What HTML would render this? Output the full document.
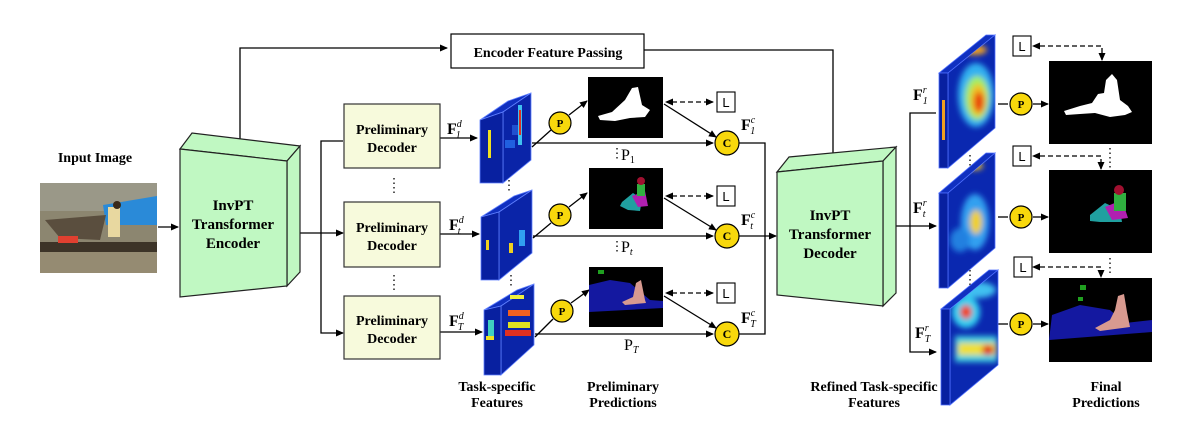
<!DOCTYPE html>
<html><head><meta charset="utf-8"><style>
html,body{margin:0;padding:0;background:#fff;}
svg{display:block;font-family:"Liberation Serif",serif;}
.b{font-weight:bold;font-size:14px;text-anchor:middle;}
.m{font-size:16px;font-weight:bold;}
.i{font-style:italic;font-size:10px;font-weight:normal;}
</style></head><body>
<svg width="1200" height="430" viewBox="0 0 1200 430" xmlns="http://www.w3.org/2000/svg">
<defs>
<marker id="a" markerWidth="8" markerHeight="8" refX="7" refY="4" orient="auto" markerUnits="userSpaceOnUse"><path d="M0,0.5 L8,4 L0,7.5 z" fill="#000"/></marker>
<filter id="bl" x="-50%" y="-50%" width="200%" height="200%"><feGaussianBlur stdDeviation="3"/></filter>
<clipPath id="r1"><polygon points="948,73 995,35 995,128 948,168"/></clipPath>
<clipPath id="r2"><polygon points="948,193 995,153 995,248 948,288"/></clipPath>
<clipPath id="r3"><polygon points="950,309 998,270 998,365 950,405"/></clipPath>
</defs>
<g stroke="#000" stroke-width="1.3" fill="none">
<polyline points="240,147 240,48 447,48" marker-end="url(#a)"/>
<polyline points="644,50 833,50 833,160" marker-end="url(#a)"/>
<line x1="158" y1="227" x2="178" y2="227" marker-end="url(#a)"/>
<line x1="297" y1="233" x2="343" y2="233" marker-end="url(#a)"/>
<polyline points="343,141 321,141 321,333 343,333" marker-end="url(#a)"/>
<line x1="440" y1="138" x2="477" y2="138" marker-end="url(#a)"/>
<line x1="440" y1="234" x2="479" y2="234" marker-end="url(#a)"/>
<line x1="440" y1="332" x2="482" y2="332" marker-end="url(#a)"/>
<line x1="532" y1="143" x2="713" y2="143" marker-end="url(#a)"/>
<line x1="533" y1="236" x2="713" y2="236" marker-end="url(#a)"/>
<line x1="535" y1="334" x2="713" y2="334" marker-end="url(#a)"/>
<line x1="532" y1="147" x2="551" y2="130"/><line x1="569" y1="115" x2="587" y2="101" marker-end="url(#a)"/>
<line x1="533" y1="238" x2="551" y2="223"/><line x1="569" y1="207" x2="587" y2="193" marker-end="url(#a)"/>
<line x1="535" y1="337" x2="553" y2="319"/><line x1="571" y1="303" x2="589" y2="290" marker-end="url(#a)"/>
<line x1="664" y1="104" x2="716" y2="137" marker-end="url(#a)"/>
<line x1="664" y1="198" x2="716" y2="230" marker-end="url(#a)"/>
<line x1="664" y1="296" x2="716" y2="328" marker-end="url(#a)"/>
<polyline points="739,143 765,143 765,334 739,334"/>
<line x1="739" y1="236" x2="776" y2="236" marker-end="url(#a)"/>
<line x1="891" y1="226" x2="936" y2="226" marker-end="url(#a)"/>
<polyline points="936,113 910,113 910,352 936,352" marker-end="url(#a)"/>
<line x1="998" y1="104" x2="1008" y2="104"/><line x1="1033" y1="104" x2="1048" y2="104" marker-end="url(#a)"/>
<line x1="998" y1="217" x2="1008" y2="217"/><line x1="1033" y1="217" x2="1048" y2="217" marker-end="url(#a)"/>
<line x1="998" y1="324" x2="1008" y2="324"/><line x1="1033" y1="324" x2="1048" y2="324" marker-end="url(#a)"/>
</g>
<g stroke="#000" stroke-width="1.3" fill="none" stroke-dasharray="5,3">
<line x1="672" y1="102" x2="713" y2="102" marker-end="url(#a)"/>
<line x1="672" y1="196" x2="713" y2="196" marker-end="url(#a)"/>
<line x1="672" y1="293" x2="713" y2="293" marker-end="url(#a)"/>
<polyline points="1040,46 1102,46 1102,60" marker-end="url(#a)"/>
<polyline points="1040,156 1101,156 1101,169" marker-end="url(#a)"/>
<polyline points="1040,267 1101,267 1101,277" marker-end="url(#a)"/>
</g>
<g fill="#000"><path d="M665,102 l8,-3.5 v7z"/><path d="M665,196 l8,-3.5 v7z"/><path d="M665,293 l8,-3.5 v7z"/>
<path d="M1032,46 l8,-3.5 v7z"/><path d="M1032,156 l8,-3.5 v7z"/><path d="M1032,267 l8,-3.5 v7z"/></g>
<g stroke="#000" stroke-width="1.3" stroke-dasharray="1.5,3"><line x1="1110" y1="148" x2="1110" y2="168"/><line x1="1110" y1="258" x2="1110" y2="276"/>
<line x1="394" y1="178" x2="394" y2="194"/><line x1="394" y1="275" x2="394" y2="291"/>
<line x1="509" y1="180" x2="509" y2="193"/><line x1="511" y1="275" x2="511" y2="287"/>
<line x1="970" y1="155" x2="970" y2="170"/><line x1="970" y1="270" x2="970" y2="287"/>
<line x1="617" y1="148" x2="617" y2="160"/><line x1="617" y1="241" x2="617" y2="253"/></g>

<rect x="451" y="34" width="193" height="34" fill="#fff" stroke="#000" stroke-width="1.2"/>
<text x="548" y="57" class="b">Encoder Feature Passing</text>
<text x="95" y="162" class="b">Input Image</text>
<rect x="40" y="183" width="117" height="90" fill="#8c8670"/>
<rect x="40" y="183" width="117" height="28" fill="#9a9888"/>
<polygon points="103,205 157,196 157,225 106,225" fill="#2a8ad8"/>
<polygon points="45,220 106,215 100,240 60,238" fill="#5a4e3e"/>
<rect x="40" y="242" width="117" height="10" fill="#3d3428"/>
<rect x="40" y="252" width="117" height="21" fill="#958b72"/>
<rect x="108" y="207" width="12" height="30" fill="#e8d8a0"/>
<circle cx="117" cy="205" r="4" fill="#3a2a1a"/>
<rect x="58" y="236" width="20" height="7" fill="#e04030"/>
<g stroke="#222" stroke-width="1.2" fill="#c0f8c2">
<polygon points="180,149 192,133 300,146 287,161"/>
<polygon points="287,161 300,146 300,272 287,286"/>
<polygon points="180,149 287,161 287,286 180,297"/>
</g>
<text class="b" x="233" y="210" style="font-size:15px">InvPT</text>
<text class="b" x="233" y="229" style="font-size:15px">Transformer</text>
<text class="b" x="233" y="248" style="font-size:15px">Encoder</text>
<g fill="#f7fadc" stroke="#333" stroke-width="1.2">
<rect x="344" y="104" width="96" height="64"/><rect x="344" y="202" width="96" height="65"/><rect x="344" y="296" width="96" height="63"/>
</g>
<g class="b"><text x="392" y="134">Preliminary</text><text x="392" y="152">Decoder</text>
<text x="392" y="232">Preliminary</text><text x="392" y="250">Decoder</text>
<text x="392" y="325">Preliminary</text><text x="392" y="343">Decoder</text></g>
<g class="m"><text x="447" y="134">F<tspan class="i" dy="-7">d</tspan><tspan class="i" dx="-6" dy="11">1</tspan></text>
<text x="449" y="230">F<tspan class="i" dy="-7">d</tspan><tspan class="i" dx="-6" dy="11">t</tspan></text>
<text x="449" y="326">F<tspan class="i" dy="-7">d</tspan><tspan class="i" dx="-6" dy="11">T</tspan></text>
<text x="741" y="130">F<tspan class="i" dy="-7">c</tspan><tspan class="i" dx="-5" dy="11">1</tspan></text>
<text x="741" y="225">F<tspan class="i" dy="-7">c</tspan><tspan class="i" dx="-5" dy="11">t</tspan></text>
<text x="741" y="323">F<tspan class="i" dy="-7">c</tspan><tspan class="i" dx="-5" dy="11">T</tspan></text>
<text x="913" y="100">F<tspan class="i" dy="-7">r</tspan><tspan class="i" dx="-4" dy="11">1</tspan></text>
<text x="913" y="213">F<tspan class="i" dy="-7">r</tspan><tspan class="i" dx="-4" dy="11">t</tspan></text>
<text x="915" y="338">F<tspan class="i" dy="-7">r</tspan><tspan class="i" dx="-4" dy="11">T</tspan></text></g>
<g font-size="16"><text x="621" y="160">P<tspan font-size="10" dy="3">1</tspan></text>
<text x="621" y="252">P<tspan font-size="10" font-style="italic" dy="3">t</tspan></text>
<text x="624" y="350">P<tspan font-size="10" font-style="italic" dy="3">T</tspan></text></g>
<g stroke="#6080ff" stroke-width="0.8">
<polygon points="480,120 503,112 531,93 508,101" fill="#1030c0"/>
<polygon points="503,112 531,93 531,160 503,183" fill="#0a24a8"/>
<polygon points="480,120 503,112 503,183 480,183" fill="#0820a0"/>
<polygon points="481,217 499,212 532,190 514,196" fill="#1030c0"/>
<polygon points="499,212 532,190 532,253 499,280" fill="#0a24a8"/>
<polygon points="481,217 499,212 499,280 481,280" fill="#0820a0"/>
<polygon points="484,310 501,306 534,284 517,290" fill="#1030c0"/>
<polygon points="501,306 534,284 534,345 501,375" fill="#0a24a8"/>
<polygon points="484,310 501,306 501,375 484,375" fill="#0820a0"/>
</g>
<g stroke="none">
<rect x="505" y="140" width="10" height="8" fill="#2060e0"/><rect x="512" y="125" width="8" height="10" fill="#2050d0"/>
<rect x="488" y="130" width="3" height="28" fill="#f0e020"/><rect x="518" y="105" width="4" height="40" fill="#40c0f0"/><rect x="519" y="110" width="2" height="25" fill="#e03020"/>
<rect x="509" y="243" width="4" height="10" fill="#f0d020"/><rect x="519" y="230" width="6" height="16" fill="#30a0f0"/><rect x="486" y="240" width="3" height="10" fill="#f0d020"/>
<rect x="508" y="310" width="22" height="6" fill="#f06020"/><rect x="508" y="322" width="22" height="6" fill="#e0e020"/><rect x="505" y="330" width="26" height="6" fill="#e03020"/><rect x="488" y="320" width="6" height="20" fill="#40d0c0"/><rect x="486" y="336" width="8" height="4" fill="#f0e020"/><rect x="510" y="295" width="14" height="4" fill="#f0f040"/>
</g>
<g class="b"><text x="497" y="391">Task-specific</text><text x="497" y="407">Features</text>
<text x="623" y="391">Preliminary</text><text x="623" y="407">Predictions</text>
<text x="874" y="391">Refined Task-specific</text><text x="874" y="407">Features</text>
<text x="1106" y="391">Final</text><text x="1106" y="407">Predictions</text></g>
<rect x="588" y="77" width="75" height="61" fill="#000"/>
<path d="M598,116 L612,112 L625,100 L632,88 L638,87 L642,105 L650,110 L645,117 L630,118 L615,121 L600,120z" fill="#fff"/>
<rect x="589" y="168" width="74" height="61" fill="#000"/>
<path d="M622,202 L633,193 L642,199 L640,211 L628,210 L620,206z" fill="#20a0a0"/>
<path d="M632,196 L645,191 L648,206 L638,207z" fill="#b020b0"/>
<rect x="637" y="184" width="8" height="12" fill="#30b040"/><circle cx="641" cy="181" r="4" fill="#a01030"/>
<rect x="589" y="267" width="74" height="60" fill="#000"/>
<path d="M589,285 L610,280 L630,283 L650,300 L663,301 L663,308 L589,312z" fill="#1418a0"/>
<path d="M622,302 L633,297 L636,283 L641,280 L645,300 L646,303 L625,305z" fill="#d89a90"/>
<rect x="598" y="270" width="6" height="4" fill="#20a020"/>
<g fill="#f8d80c" stroke="#000" stroke-width="1.2">
<circle cx="560" cy="123" r="11"/><circle cx="560" cy="215" r="11"/><circle cx="562" cy="311" r="11"/>
<circle cx="727" cy="143" r="12"/><circle cx="727" cy="236" r="12"/><circle cx="727" cy="334" r="12"/>
<circle cx="1021" cy="104" r="11"/><circle cx="1021" cy="217" r="11"/><circle cx="1021" cy="324" r="11"/>
</g>
<g class="b" style="font-size:11px"><text x="560" y="127">P</text><text x="560" y="219">P</text><text x="562" y="315">P</text>
<text x="727" y="147" style="font-size:12px">C</text><text x="727" y="240" style="font-size:12px">C</text><text x="727" y="338" style="font-size:12px">C</text>
<text x="1021" y="108">P</text><text x="1021" y="221">P</text><text x="1021" y="328">P</text></g>
<g fill="#fff" stroke="#000" stroke-width="1.1">
<rect x="717" y="92" width="18" height="20"/><rect x="717" y="186" width="18" height="20"/><rect x="717" y="283" width="18" height="20"/>
<rect x="1013" y="36" width="18" height="20"/><rect x="1013" y="146" width="18" height="20"/><rect x="1014" y="257" width="18" height="20"/>
</g>
<g font-family="Liberation Sans,sans-serif" font-size="13" text-anchor="middle"><text x="726" y="107">L</text><text x="726" y="201">L</text><text x="726" y="298">L</text>
<text x="1022" y="51">L</text><text x="1022" y="161">L</text><text x="1023" y="272">L</text></g>
<g stroke="#222" stroke-width="1.2" fill="#c0f8c2">
<polygon points="777,172 789,157 896,147 883,161"/>
<polygon points="883,161 896,147 896,293 883,306"/>
<polygon points="777,172 883,161 883,306 777,295"/>
</g>
<text class="b" x="830" y="220" style="font-size:15px">InvPT</text>
<text class="b" x="830" y="239" style="font-size:15px">Transformer</text>
<text class="b" x="830" y="258" style="font-size:15px">Decoder</text>
<g stroke="#5070ff" stroke-width="0.8">
<polygon points="939,73 948,73 995,35 986,35" fill="#1030c0"/>
<polygon points="948,73 995,35 995,128 948,168" fill="#0a28b0"/>
<polygon points="939,73 948,73 948,168 939,168" fill="#0820a0"/>
<polygon points="939,193 948,193 995,153 986,153" fill="#1030c0"/>
<polygon points="948,193 995,153 995,248 948,288" fill="#0a28b0"/>
<polygon points="939,193 948,193 948,288 939,288" fill="#0820a0"/>
<polygon points="941,309 950,309 998,270 989,270" fill="#1030c0"/>
<polygon points="950,309 998,270 998,365 950,405" fill="#0a28b0"/>
<polygon points="941,309 950,309 950,405 941,405" fill="#0820a0"/>
</g>
<g clip-path="url(#r1)"><g filter="url(#bl)">
<ellipse cx="976" cy="95" rx="18" ry="32" fill="#30b0f0"/><ellipse cx="977" cy="98" rx="12" ry="22" fill="#a0f060"/><ellipse cx="978" cy="100" rx="8" ry="16" fill="#f0c020"/><ellipse cx="979" cy="102" rx="5" ry="10" fill="#e84010"/>
<ellipse cx="975" cy="50" rx="12" ry="5" fill="#f0a020"/></g></g>
<rect x="942" y="100" width="3" height="40" fill="#f0a020"/>
<g clip-path="url(#r2)"><g filter="url(#bl)">
<ellipse cx="975" cy="222" rx="14" ry="28" fill="#30a0f0"/><ellipse cx="976" cy="222" rx="6" ry="12" fill="#f0d020"/><ellipse cx="960" cy="240" rx="10" ry="12" fill="#2080e0"/><ellipse cx="975" cy="166" rx="8" ry="4" fill="#f0c020"/></g></g>
<g clip-path="url(#r3)"><g filter="url(#bl)">
<ellipse cx="966" cy="312" rx="14" ry="16" fill="#30d0f0"/><ellipse cx="966" cy="312" rx="6" ry="7" fill="#f04010"/>
<rect x="955" y="336" width="42" height="26" fill="#40d0e0"/><rect x="958" y="343" width="38" height="12" fill="#f0e030"/><ellipse cx="988" cy="350" rx="6" ry="5" fill="#e02010"/>
<ellipse cx="978" cy="290" rx="18" ry="8" fill="#40c0f0"/></g></g>
<rect x="1049" y="61" width="103" height="83" fill="#000"/>
<path d="M1064,111 L1080,106 L1092,103 L1098,94 L1104,93 L1106,80 L1112,74 L1117,80 L1120,100 L1128,106 L1132,112 L1125,115 L1110,117 L1095,113 L1080,114 L1066,115z" fill="#fff"/>
<rect x="1049" y="170" width="103" height="83" fill="#000"/>
<path d="M1090,215 L1105,203 L1120,210 L1122,222 L1100,222 L1090,221z" fill="#20a0a0"/>
<path d="M1105,207 L1122,200 L1128,218 L1112,220z" fill="#b020b0"/>
<rect x="1114" y="193" width="12" height="18" fill="#30b040"/><circle cx="1119" cy="190" r="5" fill="#a01030"/>
<rect x="1049" y="278" width="103" height="84" fill="#000"/>
<path d="M1052,315 L1080,305 L1110,310 L1125,323 L1152,320 L1152,332 L1049,340z" fill="#1418a0"/>
<path d="M1095,328 L1110,320 L1115,310 L1118,296 L1124,294 L1127,312 L1130,327 L1100,331z" fill="#d89a90"/>
<rect x="1080" y="285" width="6" height="5" fill="#20a020"/><rect x="1078" y="297" width="5" height="4" fill="#20a020"/>
</svg>
</body></html>
